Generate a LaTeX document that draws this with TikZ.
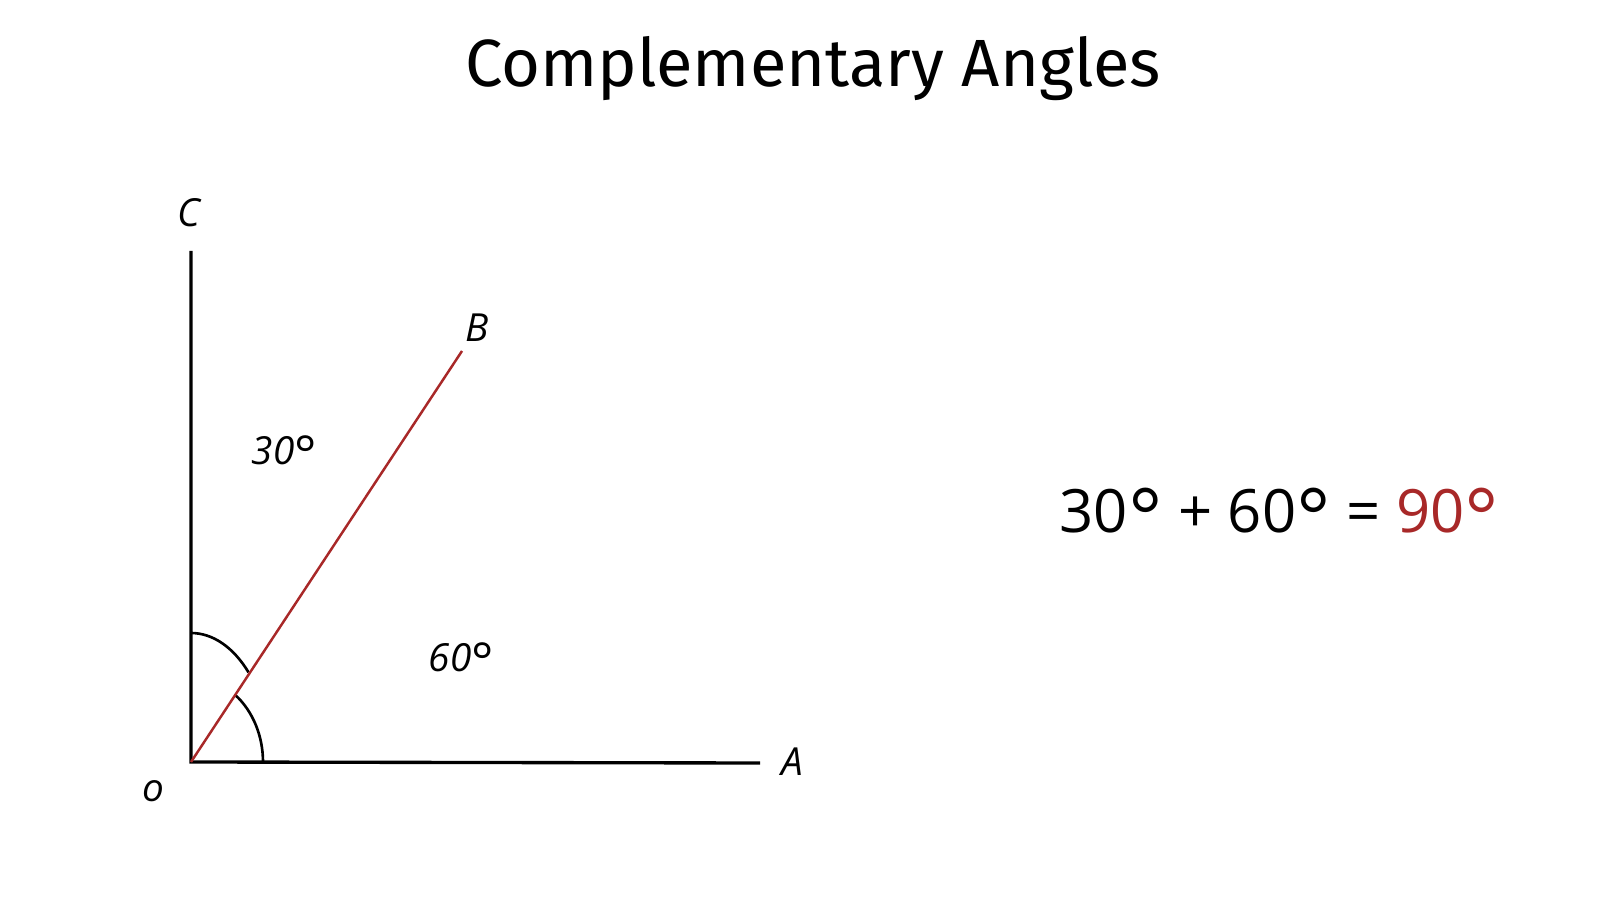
\documentclass[tikz,border=0pt]{standalone}
\usepackage{fontspec}
\usepackage{graphicx}
\setmainfont{Open Sans}
\newfontfamily\titlefont{Fira Sans}
\definecolor{linered}{HTML}{A82828}
\newcommand{\dgr}{\raisebox{-0.22em}{\scalebox{1.35}{°}}}
\begin{document}
\begin{tikzpicture}[x=0.01cm,y=0.01cm,
  ray/.style={line width=0.95pt,black},
  redray/.style={line width=0.7pt,linered},
  arcline/.style={line width=0.75pt,black},
  lbl/.style={inner sep=0pt,anchor=base,font=\fontsize{11}{13}\selectfont\itshape},
  anglbl/.style={inner sep=0pt,anchor=base west,font=\fontsize{11}{13}\selectfont\itshape}]
\useasboundingbox[fill=white] (0,0) rectangle (1600,900);
% points
\coordinate (O) at (191,138);
\coordinate (C) at (191,649);
\coordinate (A) at (760,137);
\coordinate (B) at (462,549);
% rays
\draw[ray] (C) -- (O) -- (A);
% arcs
\draw[arcline] (O) ++(0,129) arc[start angle=90,end angle=44,x radius=80,y radius=129];
\draw[arcline] (O) ++(72,0) arc[start angle=0,end angle=52,x radius=72,y radius=85];
\draw[redray] (O) -- (B);
% labels
\node[lbl] (lC) at (189,673) {C};
\node[lbl] (lB) at (477,558) {B};
\node[lbl] (lA) at (792,124) {A};
\node[lbl] (lO) at (153,98) {o};
\node[anglbl] (l30) at (251,435) {30\dgr};
\node[anglbl] (l60) at (428,228) {60\dgr};
% title
\node[inner sep=0pt,anchor=base,font=\titlefont\fontsize{19}{23}\selectfont] (title) at (813,813) {Complementary Angles};
% equation
\node[inner sep=0pt,anchor=base west,font=\fontsize{17}{20}\selectfont] (eq) at (1059,367) {30\dgr{} + 60\dgr{} = \textcolor{linered}{90\dgr}};
\end{tikzpicture}
\end{document}
